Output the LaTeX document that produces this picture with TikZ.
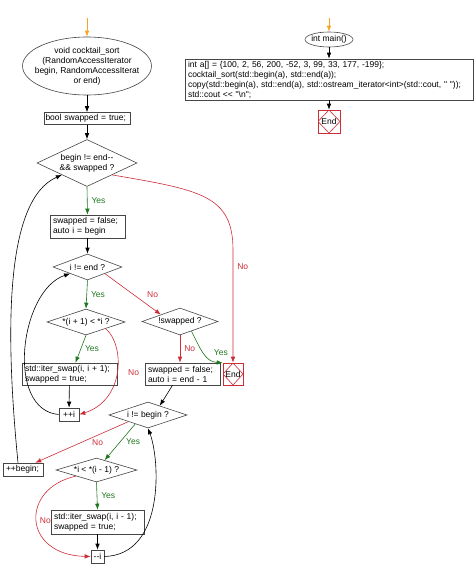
\documentclass[tikz,border=0pt]{standalone}
\usepackage{fontspec}
\newfontfamily\flowfont{Liberation Sans}
\usetikzlibrary{shapes.geometric, arrows.meta, calc}
\definecolor{noRed}{RGB}{204,45,55}
\definecolor{yesGreen}{RGB}{30,118,30}
\definecolor{startOrange}{RGB}{245,166,35}
\definecolor{lineGray}{RGB}{70,70,70}
\tikzset{
  box/.style={draw=lineGray, line width=0.6pt, rectangle, align=left, inner xsep=3pt, inner ysep=0.5pt},
  smallbox/.style={draw=lineGray, line width=0.6pt, rectangle, align=center, inner sep=1pt},
  decision/.style={draw=lineGray, line width=0.6pt, diamond, inner sep=0pt, align=center},
  terminal/.style={draw=lineGray, line width=0.6pt, ellipse, inner xsep=-12pt, inner ysep=0pt, align=center},
  endbox/.style={draw=noRed, line width=0.6pt, rectangle, inner sep=0pt,
    path picture={\draw[noRed, line width=0.6pt] (path picture bounding box.north) -- (path picture bounding box.east)
      -- (path picture bounding box.south) -- (path picture bounding box.west) -- cycle;}},
  flow/.style={-{Latex[length=6pt,width=4.5pt]}, black, line width=0.6pt},
  yesflow/.style={flow, yesGreen},
  noflow/.style={flow, noRed},
  startflow/.style={flow, startOrange},
  yeslbl/.style={text=yesGreen, inner sep=1pt},
  nolbl/.style={text=noRed, inner sep=1pt}
}

\begin{document}
\begin{tikzpicture}[x=1pt, y=-1pt, font=\flowfont\fontsize{8.5}{10}\selectfont]
\useasboundingbox (0,0) rectangle (474,573);
% cocktail_sort
\coordinate (start1) at (87,18);
\node [terminal, minimum width=129pt, minimum height=58pt] (func) at (87,66) {void cocktail\_sort\\(RandomAccessIterator\\begin, RandomAccessIterat\\or end)};
\node [box, inner xsep=1.5pt, text width=83pt, minimum height=12pt] (init) at (87,118.5) {bool swapped = true;};
\node [decision, aspect=2.13, minimum width=100pt, minimum height=47pt] (outer) at (87,163) {begin != end-{}-\\\&\& swapped ?};
\node [box, text width=69pt, minimum height=23pt] (reset) at (87.5,226.5) {swapped = false;\\auto i = begin};
\node [decision, aspect=2.65, minimum width=69pt, minimum height=26pt] (fwd) at (87.5,267) {i != end ?};
\node [decision, aspect=3, minimum width=78pt, minimum height=26pt] (cmpf) at (86,322) {*(i + 1) < *i ?};
\node [box, text width=89pt, minimum height=22pt] (swapf) at (69.5,374) {std::iter\_swap(i, i + 1);\\swapped = true;};
\node [smallbox, minimum width=20pt, minimum height=13pt] (inci) at (69,414.5) {++i};
\node [decision, aspect=2.8, minimum width=76pt, minimum height=27pt] (noswap) at (180,321.5) {!swapped ?};
\node [endbox, minimum width=20pt, minimum height=22pt] (end1) at (233,374) {End};
\node [box, text width=69pt, minimum height=22pt] (back) at (182.5,374) {swapped = false;\\auto i = end - 1};
\node [decision, aspect=3, minimum width=78pt, minimum height=26pt] (bwd) at (148,415) {i != begin ?};
\node [box, text width=34pt, minimum height=13pt] (incb) at (23,469.5) {++begin;};
\node [decision, aspect=3.4, minimum width=81pt, minimum height=24pt] (cmpb) at (96.5,470) {*i < *(i - 1) ?};
\node [box, text width=87pt, minimum height=24pt] (swapb) at (97.5,522) {std::iter\_swap(i, i - 1);\\swapped = true;};
\node [smallbox, minimum width=13pt, minimum height=13pt] (deci) at (97.5,556.5) {-{}-i};

\draw [startflow] (start1) -- (func);
\draw [flow] (func) -- (init);
\draw [flow] (init) -- (outer);
\draw [yesflow] (outer.south) -- node [yeslbl, right=3pt] (y1) {Yes} (reset.north);
\draw [noflow] (outer.south east) .. controls (200,190) and (233,195) .. (233,250) -- node [nolbl, pos=0.15, right=3pt] (n1) {No} (end1.north);
\draw [flow] (reset) -- (fwd);
\draw [yesflow] (fwd.south) -- node [yeslbl, right=3pt] (y2) {Yes} (cmpf.north);
\draw [noflow] (fwd.south east) -- node [nolbl, right=13pt] (n2) {No} (noswap.north west);
\draw [yesflow] (cmpf.south) -- node [yeslbl, right=3pt] (y3) {Yes} ([xshift=6pt]swapf.north);
\draw [noflow] (cmpf.south east) .. controls (125,345) and (125,400) .. node [nolbl, right=10pt] (n3) {No} (inci.east);
\draw [flow] (swapf) -- (inci);
\draw [flow] (inci.west) .. controls (5,410) and (20,290) .. (fwd.south west);
\draw [noflow] (noswap.south) -- node [nolbl, right=3pt] (n4) {No} (noswap.south |- back.north);
\draw [yesflow] ($(noswap.south)!0.3!(noswap.east)$) .. controls (200,348) and (205,362) .. node [yeslbl, right=9pt] (y4) {Yes} (end1.north west);
\draw [flow] ([xshift=-10pt]back.south) -- ($(bwd.north)!0.3!(bwd.east)$);
\draw [noflow] (bwd.south west) -- node [nolbl, right=9pt] (n5) {No} ([xshift=-8pt]incb.north east);
\draw [yesflow] ($(bwd.south west)!0.35!(bwd.south)$) -- node [yeslbl, right=5pt] (y5) {Yes} ($(cmpb.north)!0.2!(cmpb.east)$);
\draw [flow] ([xshift=-5pt]incb.north) .. controls (5,330) and (5,200) .. (outer.south west);
\draw [yesflow] (cmpb.south) -- node [yeslbl, right=3pt] (y6) {Yes} (swapb.north);
\draw [noflow] (cmpb.south west) .. controls (20,488) and (22,555) .. node [nolbl, right=2pt] (n6) {No} (deci.west);
\draw [flow] (swapb) -- (deci);
\draw [flow] (deci.east) .. controls (165,555) and (160,460) .. (bwd.south);

% main
\coordinate (start2) at (329,18);
\node [terminal, minimum width=48pt, minimum height=15pt] (main) at (329,39.5) {int main()};
\node [box, text width=282pt, minimum height=41pt] (body) at (329,79.5) {int a[] = \{100, 2, 56, 200, -52, 3, 99, 33, 177, -199\};\\cocktail\_sort(std::begin(a), std::end(a));\\copy(std::begin(a), std::end(a), std::ostream\_iterator<int>(std::cout, " "));\\std::cout << "\textbackslash n";};
\node [endbox, minimum width=22pt, minimum height=23pt] (end2) at (329,121.5) {End};
\draw [startflow] (start2) -- (main);
\draw [flow] (main) -- (body);
\draw [flow] (body) -- (end2);
\end{tikzpicture}
\end{document}
